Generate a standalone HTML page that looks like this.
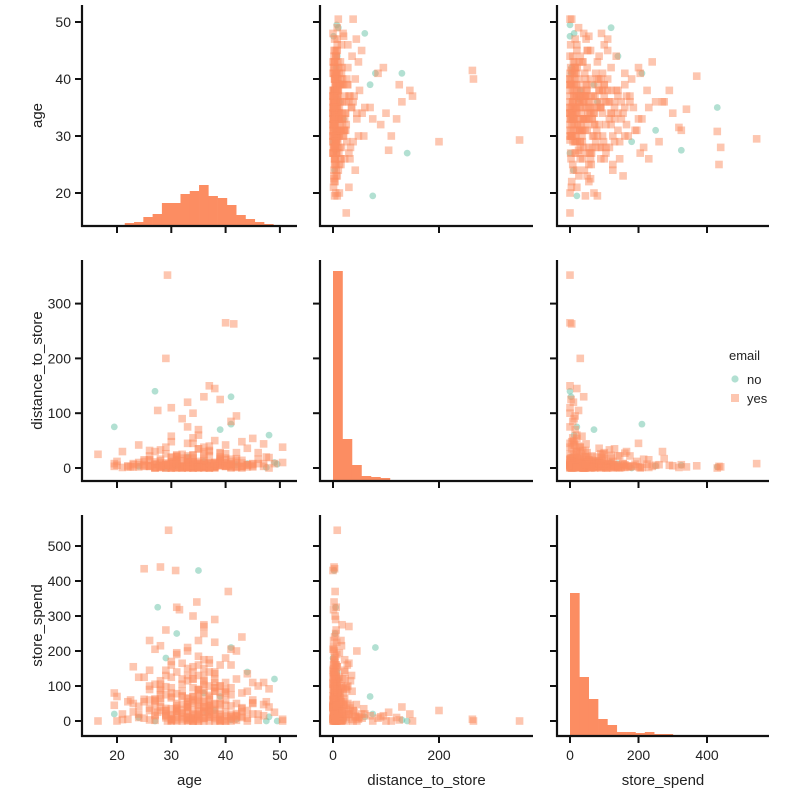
<!DOCTYPE html>
<html><head><meta charset="utf-8"><style>
body{margin:0;background:#fff;}
svg text{font-family:"Liberation Sans",Arial,sans-serif;fill:#222;}
</style></head><body>
<svg id="c" width="794" height="800" xmlns="http://www.w3.org/2000/svg"></svg>
<script>
// shared dataset: age, distance_to_store, store_spend, email (last 20 rows are "no")
const age=[30,34,37,39,32,35,28,41,36,33, 29,38,31,43,26,35,40,34,37,30, 24,36,33,42,27,38,35,31,45,34, 32,39,28,36,41,33,30,37,35,25, 44,31,38,34,29,36,40,33,27,46, 35,32,37,30,39,34,28,42,36,31, 23,38,33,35,41,29,37,34,30,43, 36,32,39,26,35,33,40,31,38,47, 34,28,37,42,30,36,33,39,25,35, 31,44,34,37,29,38,32,36,40,27, 35,33,22,39,31,37,34,28,41,36, 30,38,45,33,35,29,40,32,37,34, 26,39,36,31,43,35,33,38,30,48, 34,27,37,32,41,36,29,39,35,24, 33,40,31,37,34,28,42,36,30,38,
 33,36,35,31,38,34,29,40,37,32, 27,42,35,30,39,34,36,25,44,33, 31,37,35,41,28,34,38,23,46,36, 26,39,33,43,30,35,32,40,37,24,
 47,21,34,36,29,38,33,41,27,45, 35,31,37,28,42,34,39,30,36,32, 25,44,38,33,29,36,40,34,31,48, 22,35,41,26,37,43,30,33,39,28,
 46,32,35,38,27,34,24,42,36,30, 20,49,37,33,40,29,35,26,44,31, 32,38,34,41,27,36,45,30,39,23,
 29.3,40,41.5,29,37,38,36,33,27.5,42,39,34,29.5,25,28,40.5,31,31.5,30.8,34.7,38,43,26,36,33,45,16.5,50.5,19.5,47.5,21,50.5,47,19.5,20,22.5,
 35,33,37,30,28,39,41,32,36,34,27,43,38,31,35,29,37,33,40,26,
 19.5,35,27,27.5,41,41,36,31,38,33,44,24,47.5,49,29,39,36.5,42,48,49.5];
const dist=[0,3,1,6,2,8,4,12,1,5, 9,2,14,0,3,7,18,1,4,11, 2,6,22,3,1,10,5,16,2,8, 0,4,13,2,7,1,19,3,9,6, 5,24,2,11,0,3,15,6,1,28, 4,0,8,2,17,5,1,10,3,21, 6,1,12,4,2,26,3,9,0,14, 7,2,5,32,1,11,4,20,3,8, 1,6,0,13,3,38,2,7,15,4, 9,2,23,1,5,0,18,3,42,6, 2,10,4,27,1,8,3,16,0,5, 12,3,7,1,35,2,9,4,22,0, 3,14,6,1,48,2,11,5,8,19, 1,7,3,25,2,10,0,13,4,6, 2,9,1,30,5,3,17,0,8,4,
 2,5,1,8,3,0,6,4,9,2, 7,1,12,3,5,10,2,4,6,0, 15,3,0,7,1,11,4,2,8,5, 4,9,6,2,20,1,13,3,0,10,
 3,1,18,25,5,8,2,16,30,4, 35,22,40,9,28,45,14,6,1,3, 12,6,50,18,38,2,26,55,7,0, 2,60,5,14,3,9,48,1,20,33,
 16,4,70,7,11,24,42,2,5,58, 5,8,32,75,3,6,1,22,36,12, 90,10,4,85,0,17,54,110,28,8,
 352,265,263,200,150,145,130,120,105,95,125,100,8,3,2,4,6,1,0,2,5,3,15,30,45,8,25,38,8,20,30,10,44,3,12,2,
 6,3,9,1,4,12,7,2,14,5,0,3,8,10,2,5,1,17,6,4,
 75,2,140,5,130,80,12,4,2,20,8,3,1,10,0,70,8,6,60,7];
const spend=[5,20,45,0,70,12,30,95,8,55, 15,110,3,38,60,0,25,140,18,80, 42,7,65,120,2,33,90,10,50,155, 22,0,75,130,14,48,6,100,35,62, 0,28,85,11,145,40,4,115,57,20, 9,72,31,170,1,52,105,16,88,44, 26,135,3,67,19,98,46,0,125,13, 58,6,82,37,160,24,0,78,50,110, 17,93,41,2,66,29,150,12,55,185, 34,8,120,73,21,0,47,105,14,63, 88,39,5,160,27,11,70,215,43,0, 18,96,52,7,130,36,84,23,175,61, 3,49,115,30,10,78,40,140,1,92, 57,15,68,33,205,26,9,100,45,125, 12,80,37,165,4,54,21,110,70,29,
 10,35,0,22,48,5,15,60,28,0, 40,12,55,3,18,70,25,8,30,45, 0,20,90,12,65,33,7,50,2,80, 100,5,42,27,14,58,85,110,38,20,
 15,4,120,10,75,95,130,0,18,60, 5,140,25,88,50,0,65,160,150,105, 125,135,12,2,30,175,90,8,190,40, 55,20,160,30,140,80,5,210,45,115,
 100,165,15,225,60,95,10,200,250,35, 70,25,45,0,180,260,230,145,85,195, 12,120,300,8,205,275,20,0,100,155,
 0,0,5,30,0,20,40,10,25,15,3,0,545,435,440,370,325,318,430,340,290,240,230,270,200,110,0,0,80,55,20,5,47,45,0,60,
 30,65,12,95,40,22,75,120,55,8,105,35,85,50,18,130,62,28,45,90,
 20,430,0,325,3,210,80,250,30,5,140,10,0,120,180,70,25,5,12,0];
const isNo=[];for(let i=0;i<age.length;i++)isNo.push(i>=age.length-20?1:0);
// histogram data
const ageEdge0=16.3, ageBinW=1.71;
const ageCounts=[1,1,1,3,4,9,12,23,23,32,35,41,30,28,21,11,7,4,2,1];
const distBinW=17.9;
const distCounts=[210,42,16,5,4,3,1,1,1,1,1,1,0,1,1,1,0,0,1,0];
const spendBinW=27.3;
const spendCounts=[143,59,37,17,11,4,4,3,4,2,2,1,1,1,1,1,0,0,1,0];
const ageTicks=[20,30,40,50], distTicks=[0,100,200,300], distXTicks=[0,200], spendTicks=[0,100,200,300,400,500], spendXTicks=[0,200,400];

const NS="http://www.w3.org/2000/svg",svg=document.getElementById('c');
function el(t,a,p){const e=document.createElementNS(NS,t);for(const k in a)e.setAttribute(k,a[k]);(p||svg).appendChild(e);return e;}
const OR="#fc8d62",GR="#66c2a5";
const colL=[82,320,557], colR=[297,533,769], rowB=[226,481,736], rowT=[5,260,515];
const X=[a=>117+(a-20)*5.43, d=>333+d*0.53, s=>570+s*0.3425];
const Y=[a=>193-(a-20)*5.7, d=>468-d*0.548, s=>721-s*0.35];
const vars=[age,dist,spend];
const yt=[ageTicks,distTicks,spendTicks], xt=[ageTicks,distXTicks,spendXTicks];
const names=["age","distance_to_store","store_spend"];
for(let r=0;r<3;r++)for(let c=0;c<3;c++){
  const g=el('g',{});
  
  
  if(r===c){
    let bw,counts,e0;
    if(r===0){bw=ageBinW;counts=ageCounts;e0=ageEdge0;}else if(r===1){bw=distBinW;counts=distCounts;e0=0;}else{bw=spendBinW;counts=spendCounts;e0=0;}
    counts.forEach((n,i)=>{if(!n)return;const x0=X[c](e0+i*bw),x1=X[c](e0+(i+1)*bw);
      const b=el('rect',{x:x0,y:rowB[r]-n,width:x1-x0+0.3,height:n,fill:OR},g);
      
      });
  } else {
    for(const pass of [1,0]){
      for(let i=0;i<age.length;i++){ if(isNo[i]!==pass)continue;
        const px=X[c](vars[c][i]), py=Y[r](vars[r][i]);
        let m;
        if(pass) m=el('circle',{cx:px,cy:py,r:3.4,fill:GR,'fill-opacity':0.5},g);
        else m=el('rect',{x:px-3.8,y:py-3.8,width:7.6,height:7.6,fill:OR,'fill-opacity':0.5},g);
        
        
      }
    }
  }
  el('line',{x1:colL[c],y1:rowT[r],x2:colL[c],y2:rowB[r]+1,stroke:'#111','stroke-width':2.2},g);
  el('line',{x1:colL[c]-1,y1:rowB[r],x2:colR[c],y2:rowB[r],stroke:'#111','stroke-width':2.2},g);
  yt[r].forEach(t=>{const y=Y[r](t);el('line',{x1:colL[c]-7,x2:colL[c],y1:y,y2:y,stroke:'#111','stroke-width':2},g);
    if(c===0){const tx=el('text',{x:colL[c]-11,y:y+5,'text-anchor':'end','font-size':14},g);tx.textContent=t;}});
  xt[c].forEach(t=>{const x=X[c](t);el('line',{x1:x,x2:x,y1:rowB[r],y2:rowB[r]+7,stroke:'#111','stroke-width':2},g);
    if(r===2){const tx=el('text',{x:x,y:rowB[r]+24,'text-anchor':'middle','font-size':14},g);tx.textContent=t;}});
}
names.forEach((n,i)=>{
  const t=el('text',{x:(colL[i]+colR[i])/2,y:785,'text-anchor':'middle','font-size':15});t.textContent=n;
  
  
  const cy=(rowT[i]+rowB[i])/2;
  const u=el('text',{x:0,y:0,'text-anchor':'middle','font-size':15,transform:`translate(42,${cy}) rotate(-90)`});u.textContent=n;
  
  
});
const lg=el('g',{});


el('text',{x:729,y:360,'font-size':13},lg).textContent='email';
el('circle',{cx:735,cy:379,r:3.6,fill:GR,'fill-opacity':0.5},lg);
el('text',{x:747,y:384,'font-size':13},lg).textContent='no';
el('rect',{x:731,y:394,width:8,height:8,fill:OR,'fill-opacity':0.5},lg);
el('text',{x:747,y:403,'font-size':13},lg).textContent='yes';
</script>
</body></html>
